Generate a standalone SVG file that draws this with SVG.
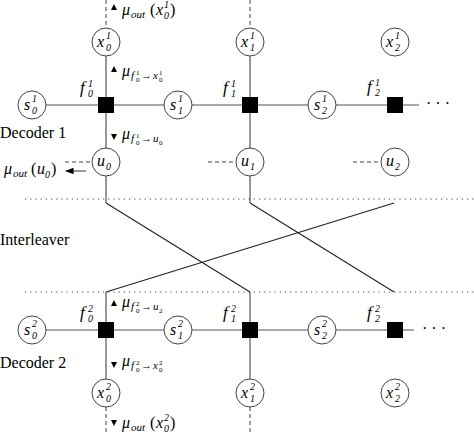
<svg xmlns="http://www.w3.org/2000/svg" width="474" height="434" viewBox="0 0 474 434" font-family="Liberation Serif, DejaVu Serif, serif">
<defs>
<style>
.ln{stroke:#555;stroke-width:1.2;fill:none}
.dg{stroke:#222;stroke-width:1.1;fill:none}
.da{stroke:#444;stroke-width:1;fill:none;stroke-dasharray:4 3}
.dt{stroke:#444;stroke-width:1;fill:none;stroke-dasharray:1.2 4}
.nd{fill:#fff;stroke:#444;stroke-width:1}
.fc{fill:#000}
.m{font-style:italic;font-size:16px}
.u{font-size:16px}
.sc{font-style:italic;font-size:10px}
.sm{font-style:italic;font-size:11px}
.ti{font-size:7px}
.tx{font-size:16px}
</style>
<marker id="ah" viewBox="0 0 10 10" refX="9" refY="5" markerWidth="7" markerHeight="7" orient="auto"><path d="M0,1 L10,5 L0,9 z" fill="#000"/></marker>
</defs>
<g id="connectors">
<line class="ln" x1="46" y1="105" x2="419" y2="105"/>
<line class="ln" x1="46" y1="330" x2="414" y2="330"/>
<polyline class="ln" points="106,56 106,203"/>
<polyline class="ln" points="250,56 250,203"/>
<line class="dg" x1="106" y1="203" x2="250" y2="292"/>
<line class="dg" x1="250" y1="203" x2="394" y2="292"/>
<line class="dg" x1="394" y1="203" x2="106" y2="292"/>
<line class="ln" x1="106" y1="292" x2="106" y2="379"/>
<line class="ln" x1="250" y1="292" x2="250" y2="379"/>
<line class="da" x1="106" y1="0" x2="106" y2="28"/>
<line class="da" x1="250" y1="0" x2="250" y2="28"/>
<line class="da" x1="106" y1="407" x2="106" y2="434"/>
<line class="da" x1="250" y1="407" x2="250" y2="434"/>
<line class="da" x1="65" y1="162" x2="92" y2="162"/>
<line class="da" x1="208" y1="162" x2="236" y2="162"/>
<line class="da" x1="353" y1="162" x2="381" y2="162"/>
<line class="ln" x1="86" y1="171" x2="66" y2="171" marker-end="url(#ah)"/>
<line class="dt" x1="25" y1="199" x2="474" y2="199"/>
<line class="dt" x1="25" y1="292" x2="474" y2="292"/>
</g>
<g id="x01"><circle class="nd" cx="106" cy="42" r="14"/><text class="m" x="97" y="47">x</text><text class="sc" x="106" y="39">1</text><text class="sc" x="106" y="51">0</text></g>
<g id="x11"><circle class="nd" cx="250" cy="42" r="14"/><text class="m" x="241" y="47">x</text><text class="sc" x="250" y="39">1</text><text class="sc" x="250" y="51">1</text></g>
<g id="x21"><circle class="nd" cx="395" cy="42" r="14"/><text class="m" x="386" y="47">x</text><text class="sc" x="395" y="39">1</text><text class="sc" x="395" y="51">2</text></g>
<g id="s01"><circle class="nd" cx="32" cy="105" r="14"/><text class="m" x="24" y="110">s</text><text class="sc" x="32" y="102">1</text><text class="sc" x="32" y="114">0</text></g>
<g id="s11"><circle class="nd" cx="178" cy="105" r="14"/><text class="m" x="170" y="110">s</text><text class="sc" x="178" y="102">1</text><text class="sc" x="178" y="114">1</text></g>
<g id="s21"><circle class="nd" cx="322" cy="105" r="14"/><text class="m" x="314" y="110">s</text><text class="sc" x="322" y="102">1</text><text class="sc" x="322" y="114">2</text></g>
<g id="f01"><rect class="fc" x="98" y="97" width="16" height="16"/><text class="m" x="80" y="93" style="font-size:17px">f</text><text class="sc" x="88" y="87">1</text><text class="sc" x="88" y="97">0</text></g>
<g id="f11"><rect class="fc" x="242" y="97" width="16" height="16"/><text class="m" x="223" y="93" style="font-size:17px">f</text><text class="sc" x="231" y="87">1</text><text class="sc" x="231" y="97">1</text></g>
<g id="f21"><rect class="fc" x="387" y="97" width="16" height="16"/><text class="m" x="367" y="92" style="font-size:17px">f</text><text class="sc" x="375" y="86">1</text><text class="sc" x="375" y="96">2</text></g>
<text class="tx" x="426" y="109">· · ·</text>
<g id="u0"><circle class="nd" cx="106" cy="162" r="14"/><text class="m" x="97" y="166">u</text><text class="sc" x="106" y="170">0</text></g>
<g id="u1"><circle class="nd" cx="250" cy="162" r="14"/><text class="m" x="241" y="166">u</text><text class="sc" x="250" y="170">1</text></g>
<g id="u2"><circle class="nd" cx="395" cy="162" r="14"/><text class="m" x="386" y="166">u</text><text class="sc" x="395" y="170">2</text></g>
<g id="s02"><circle class="nd" cx="32" cy="330" r="14"/><text class="m" x="24" y="335">s</text><text class="sc" x="32" y="327">2</text><text class="sc" x="32" y="339">0</text></g>
<g id="s12"><circle class="nd" cx="178" cy="330" r="14"/><text class="m" x="170" y="335">s</text><text class="sc" x="178" y="327">2</text><text class="sc" x="178" y="339">1</text></g>
<g id="s22"><circle class="nd" cx="322" cy="330" r="14"/><text class="m" x="314" y="335">s</text><text class="sc" x="322" y="327">2</text><text class="sc" x="322" y="339">2</text></g>
<g id="f02"><rect class="fc" x="98" y="322" width="16" height="16"/><text class="m" x="80" y="318" style="font-size:17px">f</text><text class="sc" x="88" y="312">2</text><text class="sc" x="88" y="322">0</text></g>
<g id="f12"><rect class="fc" x="242" y="322" width="16" height="16"/><text class="m" x="223" y="318" style="font-size:17px">f</text><text class="sc" x="231" y="312">2</text><text class="sc" x="231" y="322">1</text></g>
<g id="f22"><rect class="fc" x="387" y="322" width="16" height="16"/><text class="m" x="367" y="318" style="font-size:17px">f</text><text class="sc" x="375" y="312">2</text><text class="sc" x="375" y="322">2</text></g>
<text class="tx" x="422" y="334">· · ·</text>
<g id="x02"><circle class="nd" cx="106" cy="393" r="14"/><text class="m" x="97" y="398">x</text><text class="sc" x="106" y="390">2</text><text class="sc" x="106" y="402">0</text></g>
<g id="x12"><circle class="nd" cx="250" cy="393" r="14"/><text class="m" x="241" y="398">x</text><text class="sc" x="250" y="390">2</text><text class="sc" x="250" y="402">1</text></g>
<g id="x22"><circle class="nd" cx="395" cy="393" r="14"/><text class="m" x="386" y="398">x</text><text class="sc" x="395" y="390">2</text><text class="sc" x="395" y="402">2</text></g>
<text class="tx" x="0" y="138">Decoder 1</text>
<text class="tx" x="0" y="245">Interleaver</text>
<text class="tx" x="0" y="368">Decoder 2</text>
<g id="lbl-out-x01"><polygon points="111,10 117,10 114,4" fill="#000"/><text class="m" x="122" y="15">μ</text><text class="sm" x="131" y="18">out</text><text class="u" x="150" y="15">(</text><text class="m" x="156" y="15">x</text><text class="sc" x="164" y="8">1</text><text class="sc" x="164" y="19">0</text><text class="u" x="170" y="15">)</text></g>
<g id="lbl-f-x01"><polygon points="111,72 117,72 114,66" fill="#000"/><text class="m" x="122" y="76">μ</text><text class="sm" x="131" y="79">f</text><text class="ti" x="136" y="75">1</text><text class="ti" x="136" y="82">0</text><text class="sm" x="141" y="79" style="font-style:normal">→</text><text class="sm" x="153" y="79">x</text><text class="ti" x="159" y="75">1</text><text class="ti" x="159" y="82">0</text></g>
<g id="lbl-f-u0"><polygon points="111,134 117,134 114,140" fill="#000"/><text class="m" x="122" y="139">μ</text><text class="sm" x="131" y="142">f</text><text class="ti" x="136" y="138">1</text><text class="ti" x="136" y="145">0</text><text class="sm" x="141" y="142" style="font-style:normal">→</text><text class="sm" x="153" y="142">u</text><text class="ti" x="159" y="145">0</text></g>
<g id="lbl-out-u0"><text class="m" x="4" y="174">μ</text><text class="sm" x="13" y="177">out</text><text class="u" x="31" y="174">(</text><text class="m" x="37" y="174">u</text><text class="sc" x="45" y="178">0</text><text class="u" x="51" y="174">)</text></g>
<g id="lbl-f-u2"><polygon points="111,306 117,306 114,300" fill="#000"/><text class="m" x="122" y="307">μ</text><text class="sm" x="131" y="310">f</text><text class="ti" x="136" y="306">2</text><text class="ti" x="136" y="313">0</text><text class="sm" x="141" y="310" style="font-style:normal">→</text><text class="sm" x="153" y="310">u</text><text class="ti" x="159" y="313">2</text></g>
<g id="lbl-f-x02"><polygon points="111,362 117,362 114,368" fill="#000"/><text class="m" x="122" y="366">μ</text><text class="sm" x="131" y="369">f</text><text class="ti" x="136" y="365">2</text><text class="ti" x="136" y="372">0</text><text class="sm" x="141" y="369" style="font-style:normal">→</text><text class="sm" x="153" y="369">x</text><text class="ti" x="159" y="365">2</text><text class="ti" x="159" y="372">0</text></g>
<g id="lbl-out-x02"><polygon points="111,420 117,420 114,426" fill="#000"/><text class="m" x="122" y="428">μ</text><text class="sm" x="131" y="431">out</text><text class="u" x="150" y="428">(</text><text class="m" x="156" y="428">x</text><text class="sc" x="164" y="421">2</text><text class="sc" x="164" y="432">0</text><text class="u" x="170" y="428">)</text></g>
</svg>
